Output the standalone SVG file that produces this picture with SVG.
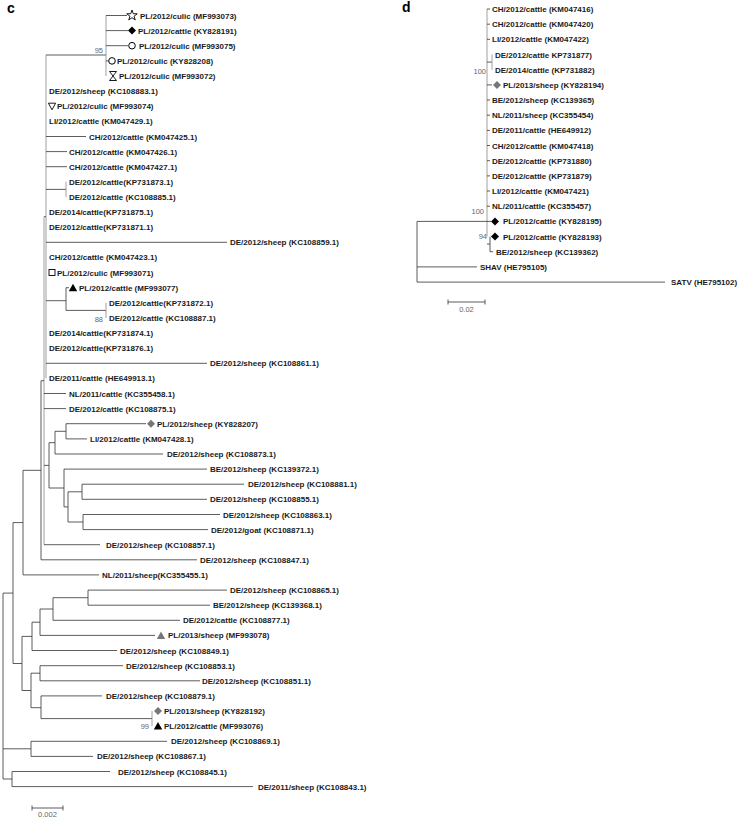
<svg xmlns="http://www.w3.org/2000/svg" xmlns:xlink="http://www.w3.org/1999/xlink" width="738" height="820" viewBox="0 0 738 820">
<style>
.t{font-family:"Liberation Sans",Arial,sans-serif;font-size:8px;font-weight:bold;fill:#1a1a1a}
.s{font-family:"Liberation Sans",Arial,sans-serif;font-size:7.5px;fill:#666}
.p{font-family:"Liberation Sans",Arial,sans-serif;font-size:14px;font-weight:bold;fill:#000}
.br line,.br path{stroke:#333;stroke-width:0.8;fill:none}
.g{stroke:#888 !important}
</style>
<defs>
<polygon id="star" points="0,-5.5 1.29,-1.78 5.23,-1.7 2.09,0.68 3.23,4.45 0,2.2 -3.23,4.45 -2.09,0.68 -5.23,-1.7 -1.29,-1.78" fill="#fff" stroke="#000" stroke-width="0.9"/>
<polygon id="dia" points="0,-4 4,0 0,4 -4,0"/>
<circle id="circ" r="3.3" fill="#fff" stroke="#000" stroke-width="1"/>
<polygon id="hour" points="-3.5,-4.5 3.5,-4.5 -3.5,4.5 3.5,4.5" fill="#fff" stroke="#000" stroke-width="0.9"/>
<polygon id="dtri" points="-3.6,-3 3.6,-3 0,3.6" fill="#fff" stroke="#000" stroke-width="0.9"/>
<rect id="sq" x="-3" y="-3" width="6" height="6" fill="#fff" stroke="#000" stroke-width="0.9"/>
<polygon id="utri" points="0,-4 4.2,3.5 -4.2,3.5"/>
</defs>
<text class="p" x="7" y="13">c</text>
<text class="p" x="402" y="12">d</text>

<g id="connectors-c" class="br">
<!-- 95 clade -->
<line x1="46" y1="55" x2="106" y2="55"/>
<line x1="106" y1="15.5" x2="106" y2="76" class="g"/>
<line x1="106" y1="15.5" x2="127" y2="15.5"/>
<line x1="106" y1="30.6" x2="128" y2="30.6"/>
<line x1="106" y1="45.7" x2="128" y2="45.7"/>
<line x1="106" y1="60.9" x2="108.7" y2="60.9"/>
<!-- backbone B -->
<line x1="46" y1="55" x2="46" y2="378.4" class="g"/>
<line x1="46" y1="136.5" x2="86" y2="136.5"/>
<line x1="46" y1="151.6" x2="67" y2="151.6"/>
<line x1="46" y1="166.7" x2="67" y2="166.7"/>
<line x1="46" y1="189.4" x2="66" y2="189.4"/>
<line x1="66" y1="181.8" x2="66" y2="196.9" class="g"/>
<line x1="46" y1="242.3" x2="227" y2="242.3"/>
<line x1="46" y1="300.7" x2="66" y2="300.7"/>
<line x1="66" y1="287.7" x2="66" y2="310.4"/>
<line x1="66" y1="287.7" x2="69" y2="287.7"/>
<line x1="66" y1="310.4" x2="106" y2="310.4"/>
<line x1="106" y1="302.8" x2="106" y2="317.9" class="g"/>
<line x1="46" y1="363.3" x2="207" y2="363.3"/>
<!-- n_p -->
<line x1="44" y1="216.7" x2="46" y2="216.7"/>
<line x1="44" y1="216.7" x2="44" y2="544.7" class="g"/>
<line x1="44" y1="393.5" x2="66" y2="393.5"/>
<line x1="44" y1="408.6" x2="66" y2="408.6"/>
<line x1="44" y1="465.4" x2="49" y2="465.4"/>
<line x1="44" y1="544.7" x2="100" y2="544.7"/>
<!-- n_u subtree -->
<line x1="66" y1="423.7" x2="66" y2="438.9"/>
<line x1="66" y1="423.7" x2="146" y2="423.7"/>
<line x1="66" y1="438.9" x2="87" y2="438.9"/>
<line x1="55" y1="431.3" x2="66" y2="431.3"/>
<line x1="55" y1="431.3" x2="55" y2="454"/>
<line x1="55" y1="454" x2="163" y2="454"/>
<line x1="49" y1="442.7" x2="55" y2="442.7"/>
<line x1="49" y1="442.7" x2="49" y2="488"/>
<line x1="49" y1="488" x2="64" y2="488"/>
<line x1="64" y1="469.1" x2="64" y2="506.9"/>
<line x1="64" y1="469.1" x2="207" y2="469.1"/>
<line x1="64" y1="506.9" x2="68" y2="506.9"/>
<line x1="68" y1="491.8" x2="68" y2="522"/>
<line x1="68" y1="491.8" x2="82" y2="491.8"/>
<line x1="82" y1="484.2" x2="82" y2="499.3"/>
<line x1="82" y1="484.2" x2="244" y2="484.2"/>
<line x1="82" y1="499.3" x2="207" y2="499.3"/>
<line x1="68" y1="522" x2="83" y2="522"/>
<line x1="83" y1="514.5" x2="83" y2="529.6"/>
<line x1="83" y1="514.5" x2="220" y2="514.5"/>
<line x1="83" y1="529.6" x2="208" y2="529.6"/>
<!-- n_q, n_r, n_m -->
<line x1="41" y1="380.7" x2="44" y2="380.7"/>
<line x1="41" y1="380.7" x2="41" y2="559.8"/>
<line x1="41" y1="559.8" x2="197" y2="559.8"/>
<line x1="23" y1="470.3" x2="41" y2="470.3"/>
<line x1="23" y1="470.3" x2="23" y2="574.9"/>
<line x1="23" y1="574.9" x2="99" y2="574.9"/>
<line x1="13" y1="522.6" x2="23" y2="522.6"/>
<line x1="13" y1="522.6" x2="13" y2="663.5"/>
<line x1="13" y1="663.5" x2="22" y2="663.5"/>
<!-- root -->
<line x1="3" y1="593.1" x2="13" y2="593.1"/>
<line x1="3" y1="593.1" x2="3" y2="779"/>
<line x1="3" y1="748.8" x2="31" y2="748.8"/>
<line x1="3" y1="779" x2="12" y2="779"/>
<!-- lower clade -->
<line x1="88" y1="590.1" x2="88" y2="605.2"/>
<line x1="88" y1="590.1" x2="227" y2="590.1"/>
<line x1="88" y1="605.2" x2="210" y2="605.2"/>
<line x1="53" y1="597.7" x2="88" y2="597.7"/>
<line x1="53" y1="597.7" x2="53" y2="620.3"/>
<line x1="53" y1="620.3" x2="180" y2="620.3"/>
<line x1="40" y1="609" x2="53" y2="609"/>
<line x1="40" y1="609" x2="40" y2="635.4"/>
<line x1="40" y1="635.4" x2="155" y2="635.4"/>
<line x1="32" y1="622.2" x2="40" y2="622.2"/>
<line x1="32" y1="622.2" x2="32" y2="650.5"/>
<line x1="32" y1="650.5" x2="117" y2="650.5"/>
<line x1="22" y1="636.4" x2="32" y2="636.4"/>
<line x1="22" y1="636.4" x2="22" y2="690.5"/>
<line x1="40" y1="665.7" x2="40" y2="680.8"/>
<line x1="40" y1="665.7" x2="123" y2="665.7"/>
<line x1="40" y1="680.8" x2="200" y2="680.8"/>
<line x1="31" y1="673.2" x2="40" y2="673.2"/>
<line x1="31" y1="673.2" x2="31" y2="707.7"/>
<line x1="22" y1="690.5" x2="31" y2="690.5"/>
<line x1="41" y1="695.9" x2="41" y2="718.6"/>
<line x1="41" y1="695.9" x2="102" y2="695.9"/>
<line x1="41" y1="718.6" x2="152" y2="718.6"/>
<line x1="31" y1="707.7" x2="41" y2="707.7"/>
<line x1="152" y1="711" x2="152" y2="726.1" class="g"/>
<line x1="31" y1="741.3" x2="31" y2="756.4"/>
<line x1="31" y1="741.3" x2="167" y2="741.3"/>
<line x1="31" y1="756.4" x2="93" y2="756.4"/>
<line x1="12" y1="771.5" x2="12" y2="786.6"/>
<line x1="12" y1="771.5" x2="110" y2="771.5"/>
<line x1="12" y1="786.6" x2="253" y2="786.6"/>
<!-- scale -->
<line x1="32" y1="808" x2="63" y2="808"/>
<line x1="32" y1="805.5" x2="32" y2="810.5"/>
<line x1="63" y1="805.5" x2="63" y2="810.5"/>
</g>

<g id="markers-c">
<use href="#star" x="132" y="15.5"/>
<use href="#dia" x="132" y="30.6" fill="#000"/>
<use href="#circ" x="132" y="45.7"/>
<use href="#circ" x="112" y="60.9"/>
<use href="#hour" x="113" y="76"/>
<use href="#dtri" x="52" y="106.2"/>
<use href="#sq" x="52" y="272.5"/>
<use href="#utri" x="73" y="287.7" fill="#000"/>
<use href="#dia" x="151" y="423.7" fill="#777"/>
<use href="#utri" x="161" y="635.4" fill="#777"/>
<use href="#dia" x="158" y="711" fill="#777"/>
<use href="#utri" x="158" y="726.1" fill="#000"/>
</g>

<g id="labels-c">
<text class="t" x="140" y="18.5">PL/2012/culic (MF993073)</text>
<text class="t" x="138" y="33.6">PL/2012/cattle (KY828191)</text>
<text class="t" x="139" y="48.7">PL/2012/culic (MF993075)</text>
<text class="t" x="117" y="63.9">PL/2012/culic (KY828208)</text>
<text class="t" x="119" y="79">PL/2012/culic (MF993072)</text>
<text class="t" x="49" y="94.1">DE/2012/sheep (KC108883.1)</text>
<text class="t" x="57" y="109.2">PL/2012/culic (MF993074)</text>
<text class="t" x="49" y="124.3">LI/2012/cattle (KM047429.1)</text>
<text class="t" x="89" y="139.5">CH/2012/cattle (KM047425.1)</text>
<text class="t" x="69" y="154.6">CH/2012/cattle (KM047426.1)</text>
<text class="t" x="69" y="169.7">CH/2012/cattle (KM047427.1)</text>
<text class="t" x="69" y="184.8">DE/2012/cattle(KP731873.1)</text>
<text class="t" x="69" y="199.9">DE/2012/cattle (KC108885.1)</text>
<text class="t" x="49" y="215.1">DE/2014/cattle(KP731875.1)</text>
<text class="t" x="49" y="230.2">DE/2012/cattle(KP731871.1)</text>
<text class="t" x="230" y="245.3">DE/2012/sheep (KC108859.1)</text>
<text class="t" x="49" y="260.4">CH/2012/cattle (KM047423.1)</text>
<text class="t" x="57" y="275.5">PL/2012/culic (MF993071)</text>
<text class="t" x="79" y="290.7">PL/2012/cattle (MF993077)</text>
<text class="t" x="109" y="305.8">DE/2012/cattle(KP731872.1)</text>
<text class="t" x="109" y="320.9">DE/2012/cattle (KC108887.1)</text>
<text class="t" x="49" y="336">DE/2014/cattle(KP731874.1)</text>
<text class="t" x="49" y="351.1">DE/2012/cattle(KP731876.1)</text>
<text class="t" x="210" y="366.3">DE/2012/sheep (KC108861.1)</text>
<text class="t" x="49" y="381.4">DE/2011/cattle (HE649913.1)</text>
<text class="t" x="69" y="396.5">NL/2011/cattle (KC355458.1)</text>
<text class="t" x="69" y="411.6">DE/2012/cattle (KC108875.1)</text>
<text class="t" x="157" y="426.7">PL/2012/sheep (KY828207)</text>
<text class="t" x="90" y="441.9">LI/2012/cattle (KM047428.1)</text>
<text class="t" x="167" y="457">DE/2012/sheep (KC108873.1)</text>
<text class="t" x="210" y="472.1">BE/2012/sheep (KC139372.1)</text>
<text class="t" x="248" y="487.2">DE/2012/sheep (KC108881.1)</text>
<text class="t" x="210" y="502.3">DE/2012/sheep (KC108855.1)</text>
<text class="t" x="223" y="517.5">DE/2012/sheep (KC108863.1)</text>
<text class="t" x="211" y="532.6">DE/2012/goat (KC108871.1)</text>
<text class="t" x="106" y="547.7">DE/2012/sheep (KC108857.1)</text>
<text class="t" x="200" y="562.8">DE/2012/sheep (KC108847.1)</text>
<text class="t" x="102" y="577.9">NL/2011/sheep(KC355455.1)</text>
<text class="t" x="230" y="593.1">DE/2012/sheep (KC108865.1)</text>
<text class="t" x="213" y="608.2">BE/2012/sheep (KC139368.1)</text>
<text class="t" x="183" y="623.3">DE/2012/cattle (KC108877.1)</text>
<text class="t" x="168" y="638.4">PL/2013/sheep (MF993078)</text>
<text class="t" x="120" y="653.5">DE/2012/sheep (KC108849.1)</text>
<text class="t" x="126" y="668.7">DE/2012/sheep (KC108853.1)</text>
<text class="t" x="202" y="683.8">DE/2012/sheep (KC108851.1)</text>
<text class="t" x="106" y="698.9">DE/2012/sheep (KC108879.1)</text>
<text class="t" x="164" y="714">PL/2013/sheep (KY828192)</text>
<text class="t" x="164" y="729.1">PL/2012/cattle (MF993076)</text>
<text class="t" x="171" y="744.3">DE/2012/sheep (KC108869.1)</text>
<text class="t" x="97" y="759.4">DE/2012/sheep (KC108867.1)</text>
<text class="t" x="118" y="774.5">DE/2012/sheep (KC108845.1)</text>
<text class="t" x="258" y="789.6">DE/2011/sheep (KC108843.1)</text>
<text class="s" x="103" y="53" text-anchor="end">95</text>
<text class="s" x="103" y="322" text-anchor="end">88</text>
<text class="s" x="149" y="729" text-anchor="end">99</text>
<text class="s" x="47.5" y="817" text-anchor="middle">0.002</text>
</g>

<g id="connectors-d" class="br">
<line x1="487" y1="9" x2="487" y2="236.6" class="g"/>
<line x1="487" y1="9" x2="490" y2="9"/>
<line x1="487" y1="24.2" x2="490" y2="24.2"/>
<line x1="487" y1="39.3" x2="490" y2="39.3"/>
<line x1="487" y1="62.1" x2="492" y2="62.1"/>
<line x1="492" y1="54.5" x2="492" y2="69.7" class="g"/>
<line x1="487" y1="84.9" x2="492" y2="84.9"/>
<line x1="487" y1="100" x2="490" y2="100"/>
<line x1="487" y1="115.2" x2="490" y2="115.2"/>
<line x1="487" y1="130.4" x2="490" y2="130.4"/>
<line x1="487" y1="145.5" x2="490" y2="145.5"/>
<line x1="487" y1="160.7" x2="490" y2="160.7"/>
<line x1="487" y1="175.9" x2="490" y2="175.9"/>
<line x1="487" y1="191" x2="490" y2="191"/>
<line x1="487" y1="206.2" x2="490" y2="206.2"/>
<line x1="487" y1="221.4" x2="491" y2="221.4"/>
<line x1="487" y1="244" x2="490" y2="244"/>
<line x1="490" y1="236.6" x2="490" y2="251.7"/>
<line x1="490" y1="251.7" x2="493" y2="251.7"/>
<line x1="417" y1="221.4" x2="487" y2="221.4"/>
<line x1="417" y1="221.4" x2="417" y2="282.1"/>
<line x1="417" y1="266.9" x2="477" y2="266.9"/>
<line x1="417" y1="282.1" x2="665" y2="282.1"/>
<line x1="448" y1="302" x2="485" y2="302"/>
<line x1="448" y1="299.5" x2="448" y2="304.5"/>
<line x1="485" y1="299.5" x2="485" y2="304.5"/>
</g>

<g id="markers-d">
<use href="#dia" x="497" y="84.9" fill="#777"/>
<use href="#dia" x="495" y="221.4" fill="#000"/>
<use href="#dia" x="495" y="236.6" fill="#000"/>
</g>

<g id="labels-d">
<text class="t" x="492" y="12">CH/2012/cattle (KM047416)</text>
<text class="t" x="492" y="27.2">CH/2012/cattle (KM047420)</text>
<text class="t" x="492" y="42.3">LI/2012/cattle (KM047422)</text>
<text class="t" x="495" y="57.5">DE/2012/cattle KP731877)</text>
<text class="t" x="495" y="72.7">DE/2014/cattle (KP731882)</text>
<text class="t" x="503" y="87.9">PL/2013/sheep (KY828194)</text>
<text class="t" x="492" y="103">BE/2012/sheep (KC139365)</text>
<text class="t" x="492" y="118.2">NL/2011/sheep (KC355454)</text>
<text class="t" x="492" y="133.4">DE/2011/cattle (HE649912)</text>
<text class="t" x="492" y="148.5">CH/2012/cattle (KM047418)</text>
<text class="t" x="492" y="163.7">DE/2012/cattle (KP731880)</text>
<text class="t" x="492" y="178.9">DE/2012/cattle (KP731879)</text>
<text class="t" x="492" y="194">LI/2012/cattle (KM047421)</text>
<text class="t" x="492" y="209.2">NL/2011/cattle (KC355457)</text>
<text class="t" x="503" y="224.4">PL/2012/cattle (KY828195)</text>
<text class="t" x="503" y="239.6">PL/2012/cattle (KY828193)</text>
<text class="t" x="496" y="254.7">BE/2012/sheep (KC139362)</text>
<text class="t" x="480" y="269.9">SHAV (HE795105)</text>
<text class="t" x="671" y="285.1">SATV (HE795102)</text>
<text class="s" x="486" y="74" text-anchor="end">100</text>
<text class="s" x="484" y="214" text-anchor="end">100</text>
<text class="s" x="487" y="239" text-anchor="end">94</text>
<text class="s" x="466.5" y="312" text-anchor="middle">0.02</text>
</g>
</svg>
